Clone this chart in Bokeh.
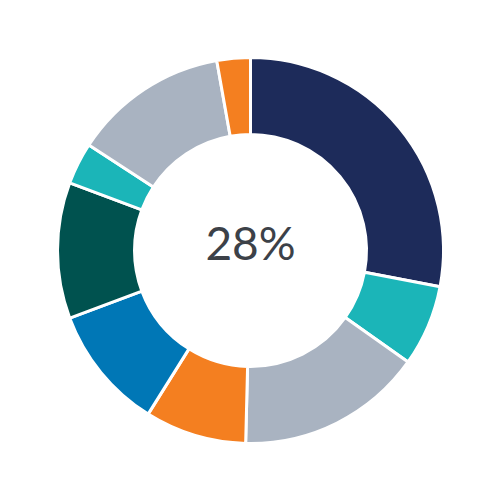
import numpy as np
from bokeh.plotting import figure
from bokeh.core.properties import value
from bokeh.embed import file_html
from bokeh.resources import INLINE

# share of each slice, clockwise from 12 o'clock (percent)
shares = [28, 6.8, 15.6, 8.5, 10.4, 11.4, 3.5, 13.0, 2.8]
colors = ["#1d2b5a", "#1bb5b8", "#a9b3c1", "#f47f20", "#0077b6",
          "#00524f", "#1bb5b8", "#a9b3c1", "#f47f20"]
center_label = "28%"

frac = np.array(shares) / sum(shares)
cum = np.concatenate([[0], np.cumsum(frac)])
starts = np.pi / 2 - cum[:-1] * 2 * np.pi
ends = np.pi / 2 - cum[1:] * 2 * np.pi

p = figure(width=484, height=484, x_range=(-242, 242), y_range=(-242, 242),
           output_backend="svg", toolbar_location=None, min_border=0)
p.axis.visible = False
p.grid.visible = False
p.outline_line_color = None

p.annular_wedge(x=8, y=-8, inner_radius=116, outer_radius=193,
                start_angle=starts, end_angle=ends, direction="clock",
                fill_color=colors, line_color="white", line_width=3)

p.text(x=[8], y=[0], text=[center_label], text_align="center",
       text_baseline="middle", text_font=value("Lato"),
       text_font_size="46px", text_color="#3c4148")

open("out.html", "w").write(file_html(p, INLINE))
